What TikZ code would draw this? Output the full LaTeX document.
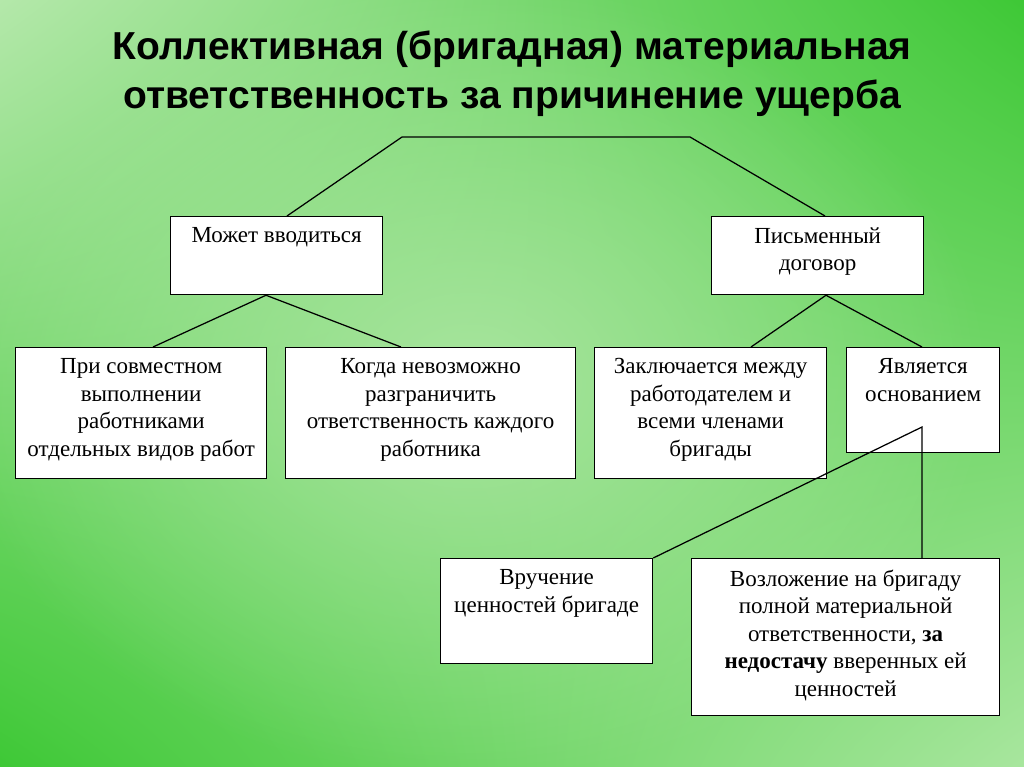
\documentclass[tikz,border=0pt]{standalone}
\usepackage{fontspec}
\usetikzlibrary{shadings,fadings}
\setmainfont{Liberation Serif}
\newfontfamily\titlefont{Liberation Sans}
\tikzfading[name=softglow, inner color=transparent!0, outer color=transparent!100]
\begin{document}
\begin{tikzpicture}[x=1pt,y=-1pt,
  box/.style={draw=black,line width=1.25pt,fill=white,anchor=north west,inner sep=0pt},
  txt/.style={anchor=north,inner sep=0pt,align=center,font=\fontsize{23}{27.5}\selectfont},
  conn/.style={draw=black,line width=1.25pt},
  ttl/.style={inner sep=0pt,font=\titlefont\bfseries\fontsize{39}{49}\selectfont}]
\definecolor{gl}{RGB}{180,232,170}
\definecolor{gd}{RGB}{62,200,54}
\definecolor{gbr}{RGB}{168,230,158}
\useasboundingbox (0,0) rectangle (1024,767);
% background
\shade[upper left=gl, upper right=gd, lower left=gd, lower right=gbr] (0,0) rectangle (1024,767);
\begin{scope}
\clip (0,0) rectangle (1024,767);
\fill[gl, opacity=0.8, path fading=softglow] (470,380) ellipse (520 and 400);
\end{scope}
% title
\node[ttl] (title1) at (512,49) {Коллективная (бригадная) материальная};
\node[ttl] (title2) at (512,98) {ответственность за причинение ущерба};
% boxes
\node[box,minimum width=212pt,minimum height=78pt] (b1) at (170,216) {};
\node[box,minimum width=212pt,minimum height=78pt] (b2) at (711,216) {};
\node[box,minimum width=251pt,minimum height=131pt] (b3) at (15,347) {};
\node[box,minimum width=290pt,minimum height=131pt] (b4) at (285,347) {};
\node[box,minimum width=232pt,minimum height=131pt] (b5) at (594,347) {};
\node[box,minimum width=153pt,minimum height=105pt] (b6) at (846,347) {};
\node[box,minimum width=212pt,minimum height=105pt] (b7) at (440,558) {};
\node[box,minimum width=308pt,minimum height=157pt] (b8) at (691,558) {};
% texts
\node[txt] (t1) at ([yshift=-11.5pt]b1.north) {Может вводиться};
\node[txt] (t2) at ([yshift=-11.5pt]b2.north) {Письменный\\договор};
\node[txt] (t3) at ([yshift=-11.5pt]b3.north) {При совместном\\выполнении\\работниками\\отдельных видов работ};
\node[txt] (t4) at ([yshift=-11.5pt]b4.north) {Когда невозможно\\разграничить\\ответственность каждого\\работника};
\node[txt] (t5) at ([yshift=-11.5pt]b5.north) {Заключается между\\работодателем и\\всеми членами\\бригады};
\node[txt] (t6) at ([yshift=-11.5pt]b6.north) {Является\\основанием};
\node[txt] (t7) at ([yshift=-11.5pt]b7.north) {Вручение\\ценностей бригаде};
\node[txt] (t8) at ([yshift=-11.5pt]b8.north) {Возложение на бригаду\\полной материальной\\ответственности, \textbf{за}\\\textbf{недостачу} вверенных ей\\ценностей};
% connectors
\coordinate (tl) at (402,137);
\coordinate (tr) at (690,137);
\coordinate (j6) at (922,427);
\draw[conn] (b1.north -| 287,0) -- (tl) -- (tr) -- (b2.north -| 825,0);
\draw[conn] (b3.north -| 153,0) -- (b1.south -| 266,0) -- (b4.north -| 401,0);
\draw[conn] (b5.north -| 751,0) -- (b2.south -| 826,0) -- (b6.north -| 922,0);
\draw[conn] (b7.north east) -- (j6) -- (b8.north -| j6);
\end{tikzpicture}
\end{document}
